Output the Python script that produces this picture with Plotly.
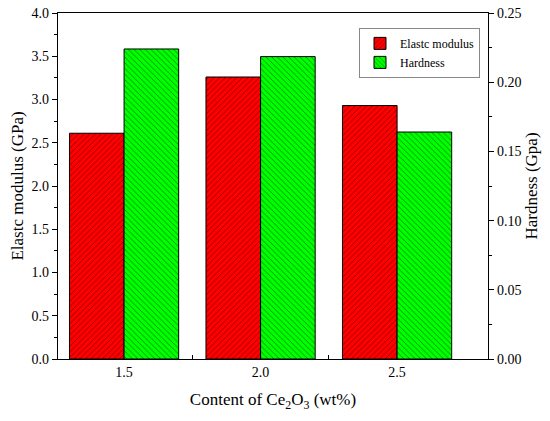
import plotly.graph_objects as go

categories = [1.5, 2.0, 2.5]
tick_labels = ["1.5", "2.0", "2.5"]
elastic_modulus = [2.61, 3.26, 2.93]
hardness = [0.224, 0.2185, 0.164]

FONT = "Liberation Serif"

fig = go.Figure()
fig.add_trace(go.Bar(
    x=categories, y=elastic_modulus, name="Elastc modulus",
    offsetgroup="1", yaxis="y",
    marker=dict(color="#ff0000", line=dict(color="black", width=1),
                pattern=dict(shape="/", fgcolor="black", bgcolor="#ff0000",
                             size=4, solidity=0.2)),
))
fig.add_trace(go.Bar(
    x=categories, y=hardness, name="Hardness",
    offsetgroup="2", yaxis="y2",
    marker=dict(color="#00ff00", line=dict(color="black", width=1),
                pattern=dict(shape="\\", fgcolor="black", bgcolor="#00ff00",
                             size=4, solidity=0.2)),
))

axis_common = dict(showline=True, linecolor="black", linewidth=1.2,
                   showgrid=False, zeroline=False, automargin=False,
                   ticklabeloverflow="allow",
                   tickfont=dict(family=FONT, size=14, color="black"))

fig.update_layout(
    width=542, height=413,
    margin=dict(l=50, r=62, t=5, b=62),
    paper_bgcolor="white", plot_bgcolor="white",
    barmode="group", bargap=0.2, bargroupgap=0,
    font=dict(family=FONT, color="black"),
    xaxis=dict(**axis_common, range=[1.258, 2.833], mirror=True,
               tickmode="array", tickvals=categories, ticktext=tick_labels,
               ticks="", ticklen=5,
               minor=dict(ticks="inside", tickmode="array", tickvals=[1.75, 2.25],
                          ticklen=4, tickcolor="black"),
               title=dict(text="Content of Ce<sub>2</sub>O<sub>3</sub> (wt%)",
                          font=dict(family=FONT, size=17), standoff=14)),
    yaxis=dict(**axis_common, range=[0, 4.0], dtick=0.5, tickformat=".1f",
               ticks="outside", ticklen=5, tickcolor="black",
               minor=dict(ticks="outside", dtick=0.25, ticklen=3, tickcolor="black"),
               title=dict(text="Elastc modulus (GPa)",
                          font=dict(family=FONT, size=17), standoff=6)),
    yaxis2=dict(**axis_common, overlaying="y", side="right",
                range=[0, 0.25], dtick=0.05, tickformat=".2f",
                ticks="outside", ticklen=5, tickcolor="black",
                minor=dict(ticks="outside", dtick=0.025, ticklen=3, tickcolor="black"),
                title=dict(text="Hardness (Gpa)",
                           font=dict(family=FONT, size=17), standoff=4)),
    legend=dict(x=0.70, y=0.957, xanchor="left", yanchor="top",
                bgcolor="white", bordercolor="#888888", borderwidth=1,
                font=dict(family=FONT, size=12), tracegroupgap=0,
                itemwidth=30),
)

fig.write_html("out.html")
